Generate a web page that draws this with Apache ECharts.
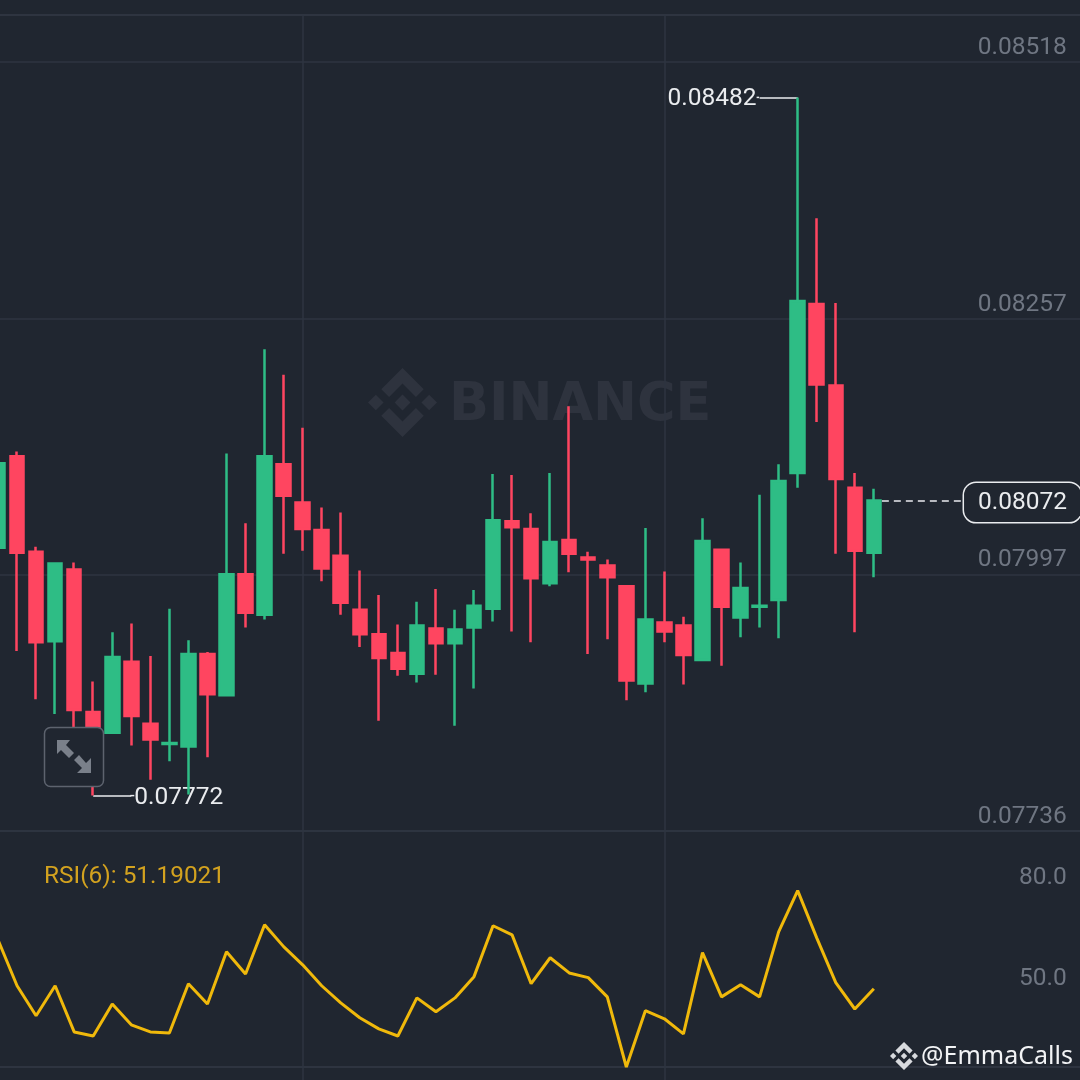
<!DOCTYPE html>
<html>
<head>
<meta charset="utf-8">
<title>RSI candles</title>
<style>
    html, body { margin: 0; padding: 0; background: #202630; }
    #chart { width: 1080px; height: 1080px; }
</style>
<script src="https://cdn.jsdelivr.net/npm/echarts@6/dist/echarts.min.js"></script>
</head>
<body>
<div id="chart"></div>
<script>
var opens = [0.08024, 0.08117, 0.08020, 0.07929, 0.08002, 0.07857, 0.07836, 0.07908, 0.07845, 0.078245, 0.07822, 0.07916,
    0.07874, 0.07997, 0.07956, 0.08109, 0.08070, 0.08042, 0.08016, 0.07961, 0.07936, 0.07917, 0.07896, 0.07942,
    0.07927, 0.07943, 0.07962, 0.08051, 0.08043, 0.07988, 0.08032, 0.08014, 0.08006, 0.07985, 0.07886, 0.07948,
    0.07945, 0.07910, 0.08022, 0.07953, 0.07964, 0.07971, 0.08100, 0.08272, 0.08189, 0.08085, 0.08019];
var closes = [0.08110, 0.08019, 0.07928, 0.08008, 0.07859, 0.07837, 0.07913, 0.07853, 0.07829, 0.078255, 0.07916, 0.07875,
    0.07997, 0.07958, 0.08117, 0.08077, 0.08043, 0.08003, 0.07968, 0.07936, 0.07912, 0.07901, 0.07945, 0.07927,
    0.07941, 0.07965, 0.08052, 0.08045, 0.07993, 0.08030, 0.08018, 0.08012, 0.07994, 0.07889, 0.07951, 0.07939,
    0.07915, 0.08031, 0.07964, 0.07983, 0.07965, 0.08092, 0.08275, 0.08190, 0.08094, 0.08021, 0.08072];
var lows = [0.08020, 0.07919, 0.07870, 0.07855, 0.07839, 0.07772, 0.07835, 0.07823, 0.07788, 0.07807, 0.07773, 0.07811,
    0.07873, 0.07943, 0.07951, 0.08018, 0.08021, 0.07990, 0.07956, 0.07923, 0.07848, 0.07894, 0.07887, 0.07895,
    0.07843, 0.07881, 0.07949, 0.07939, 0.07928, 0.07985, 0.07999, 0.07916, 0.07931, 0.07869, 0.07877, 0.07928,
    0.07885, 0.07909, 0.07904, 0.07933, 0.07943, 0.07932, 0.08085, 0.08152, 0.08018, 0.07938, 0.07994];
var highs = [0.08117, 0.08122, 0.08025, 0.08009, 0.08009, 0.07888, 0.07938, 0.07947, 0.07914, 0.07962, 0.07930, 0.07918,
    0.08120, 0.08049, 0.08226, 0.08200, 0.08146, 0.08065, 0.08060, 0.08001, 0.07976, 0.07946, 0.07969, 0.07982,
    0.07961, 0.07981, 0.08099, 0.08098, 0.08059, 0.08100, 0.08168, 0.08020, 0.08012, 0.07986, 0.08044, 0.08000,
    0.07954, 0.08054, 0.08023, 0.08009, 0.08078, 0.08109, 0.08482, 0.08359, 0.08273, 0.08100, 0.08084];
var rsiValues = [65.7, 52.1, 43.2, 52.1, 38.4, 37.2, 46.7, 40.5, 38.4, 38.1, 52.7, 46.7,
    62.2, 55.6, 70.2, 63.7, 58.3, 52.1, 47.0, 42.6, 39.3, 37.2, 48.5, 44.4,
    48.5, 54.8, 69.9, 67.2, 52.7, 60.4, 55.9, 54.5, 48.8, 28.0, 44.7, 42.3,
    37.8, 61.9, 48.8, 52.4, 48.8, 68.1, 80.3, 66.3, 53.0, 45.2, 51.19021];

var priceTicks = [0.07736, 0.07997, 0.08257, 0.08518];
var rsiTicks = [50, 80];
var rsiFloor = [28];

var highPrice = 0.08482;
var lowPrice = 0.07772;
var lastPrice = 0.08072;
var rsiLabel = 'RSI(6): 51.19021';

var BG = '#202630';
var UP = '#2EBD85';
var DOWN = '#FF4560';
var GRID = '#2E3440';
var AXIS_TEXT = '#6F7682';
var WHITE = '#EAECEF';

// diamond logo outlines, in a 126.6 unit box
var LOGO_PARTS = [
    [[38.73, 53.2], [63.32, 28.62], [87.92, 53.22], [102.22, 38.91], [63.32, 0], [24.43, 38.9]],
    [[0, 63.31], [14.3, 49], [28.61, 63.31], [14.3, 77.61]],
    [[38.73, 73.41], [63.32, 98], [87.92, 73.4], [102.23, 87.69], [63.33, 126.6], [24.42, 87.7]],
    [[98, 63.31], [112.3, 49], [126.61, 63.3], [112.3, 77.62]],
    [[77.83, 63.3], [63.32, 48.78], [48.81, 63.28], [63.32, 77.8]]
];

var logo = function (x, y, size, color, z) {
    return LOGO_PARTS.map(function (part) {
        return {
            type: 'polygon',
            z: z,
            silent: true,
            shape: {
                points: part.map(function (p) {
                    return [x + p[0] * size / 126.6, y + p[1] * size / 126.6];
                })
            },
            style: {fill: color}
        };
    });
};

var categories = [];
var candles = [];
for (var i = 0; i < 58; i++) {
    categories.push(String(i));
}
opens.forEach(function (o, i) {
    candles.push([o, closes[i], lows[i], highs[i]]);
});

var splitAt = function (index) {
    return index === 16 || index === 35;
};

var xAxisBase = function (gridIndex) {
    return {
        type: 'category',
        gridIndex: gridIndex,
        data: categories,
        axisLine: {show: false},
        axisTick: {show: false},
        axisLabel: {show: false},
        splitLine: {
            show: true,
            interval: splitAt,
            alignWithLabel: true,
            lineStyle: {color: GRID, width: 1.5}
        }
    };
};

var axisLabelStyle = function (values, digits) {
    return {
        show: true,
        inside: true,
        customValues: values,
        margin: 26,
        color: AXIS_TEXT,
        fontSize: 24.5,
        fontFamily: 'Roboto',
        verticalAlign: 'bottom',
        lineHeight: 28,
        formatter: function (v) {
            return Number(v).toFixed(digits);
        }
    };
};

// the marklines end on whole categories, the l token carries the leader up to the text
var leaderRich = function (leaderWidth, textShift) {
    return {
        l: {width: leaderWidth, height: 1.5, backgroundColor: WHITE},
        t: {color: WHITE, fontSize: 24.5, fontFamily: 'Roboto', padding: [textShift, 0, 0, 0]}
    };
};

var myChart = echarts.init(document.getElementById('chart'));

var option = {
    animation: false,
    backgroundColor: BG,
    textStyle: {fontFamily: 'Roboto'},
    title: {
        text: rsiLabel,
        left: 44,
        top: 865,
        padding: 0,
        textStyle: {color: '#D3A21F', fontSize: 24.4, fontWeight: 'normal', fontFamily: 'Roboto'}
    },
    grid: [
        {left: -11.5, right: -12.8, top: 15, height: 816, show: true, borderColor: GRID, borderWidth: 2, backgroundColor: 'transparent', outerBoundsMode: 'none'},
        {left: -11.5, right: -12.8, top: 831, height: 249, outerBoundsMode: 'none'}
    ],
    xAxis: [xAxisBase(0), xAxisBase(1)],
    yAxis: [
        {
            type: 'value',
            gridIndex: 0,
            position: 'right',
            min: 0.07736,
            max: 0.085658,
            axisLine: {show: false},
            axisTick: {show: false, customValues: priceTicks},
            axisLabel: axisLabelStyle(priceTicks, 5),
            splitLine: {show: true, lineStyle: {color: GRID, width: 1.5}}
        },
        {
            type: 'value',
            gridIndex: 1,
            position: 'right',
            min: 24.14,
            max: 98,
            axisLine: {show: false},
            axisTick: {show: false, customValues: rsiFloor},
            axisLabel: axisLabelStyle(rsiTicks, 1),
            splitLine: {show: true, lineStyle: {color: GRID, width: 2}}
        }
    ],
    series: [
        {
            name: 'Price',
            type: 'candlestick',
            xAxisIndex: 0,
            yAxisIndex: 0,
            barWidth: 14,
            data: candles,
            itemStyle: {
                color: UP,
                color0: DOWN,
                borderColor: UP,
                borderColor0: DOWN,
                borderWidth: 2.5
            },
            markLine: {
                silent: true,
                symbol: 'none',
                z: 1,
                animation: false,
                data: [
                    [
                        {
                            coord: [42, highPrice],
                            lineStyle: {color: WHITE, width: 1.5, type: 'solid'},
                            label: {
                                position: 'end',
                                distance: 0.5,
                                formatter: '{t|' + highPrice.toFixed(5) + '}{l|}',
                                rich: leaderRich(2.5, 2)
                            }
                        },
                        {coord: [40, highPrice]}
                    ],
                    [
                        {
                            coord: [5, lowPrice],
                            lineStyle: {color: WHITE, width: 1.5, type: 'solid'},
                            label: {
                                position: 'end',
                                distance: -1,
                                formatter: '{l|}{t|' + lowPrice.toFixed(5) + '}',
                                rich: leaderRich(4, 4)
                            }
                        },
                        {coord: [7, lowPrice]}
                    ],
                    [
                        {
                            coord: [46, lastPrice],
                            lineStyle: {color: WHITE, width: 1.5, type: [7, 5], dashOffset: 4},
                            label: {
                                position: 'end',
                                distance: -5,
                                formatter: lastPrice.toFixed(5),
                                color: WHITE,
                                fontSize: 24.5,
                                fontFamily: 'Roboto',
                                backgroundColor: BG,
                                borderColor: WHITE,
                                borderWidth: 1.5,
                                borderRadius: 12,
                                padding: [7, 14],
                                offset: [0, 2]
                            }
                        },
                        {coord: [51, lastPrice]}
                    ]
                ]
            }
        },
        {
            name: 'RSI(6)',
            type: 'line',
            xAxisIndex: 1,
            yAxisIndex: 1,
            data: rsiValues,
            showSymbol: false,
            symbol: 'none',
            clip: false,
            lineStyle: {color: '#F0B90B', width: 3}
        }
    ],
    graphic: [].concat(
        // watermark sits under the candles
        logo(368, 368, 69, '#2E333E', -1),
        [
            {
                type: 'text', z: -1, silent: true, x: 449, y: 406,
                style: {text: 'BINANCE', fill: '#2E333E', font: 'bold 52.5px "DejaVu Sans"', textVerticalAlign: 'middle'}
            },
            // expand button
            {
                type: 'rect', z: 100, silent: true,
                shape: {x: 44.5, y: 727.5, width: 59, height: 59, r: 6},
                style: {fill: BG, stroke: '#5D636E', lineWidth: 1.5}
            },
            {
                type: 'polygon', z: 101, silent: true,
                shape: {points: [[57, 740], [70, 740], [66, 745], [74, 753], [69, 758], [61, 750], [57, 754]]},
                style: {fill: '#7A808A'}
            },
            {
                type: 'polygon', z: 101, silent: true,
                shape: {points: [[91, 773], [77, 773], [82, 768], [74, 760], [79, 755], [86, 763], [91, 758]]},
                style: {fill: '#7A808A'}
            },
            // credit
            {
                type: 'text', z: 100, silent: true, x: 921, y: 1057,
                style: {text: '@EmmaCalls', fill: '#F2F3F5', font: '25px "Noto Sans"', textVerticalAlign: 'middle'}
            }
        ],
        logo(890, 1042, 28, '#D8DADE', 100)
    )
};

myChart.setOption(option);
</script>
</body>
</html>
